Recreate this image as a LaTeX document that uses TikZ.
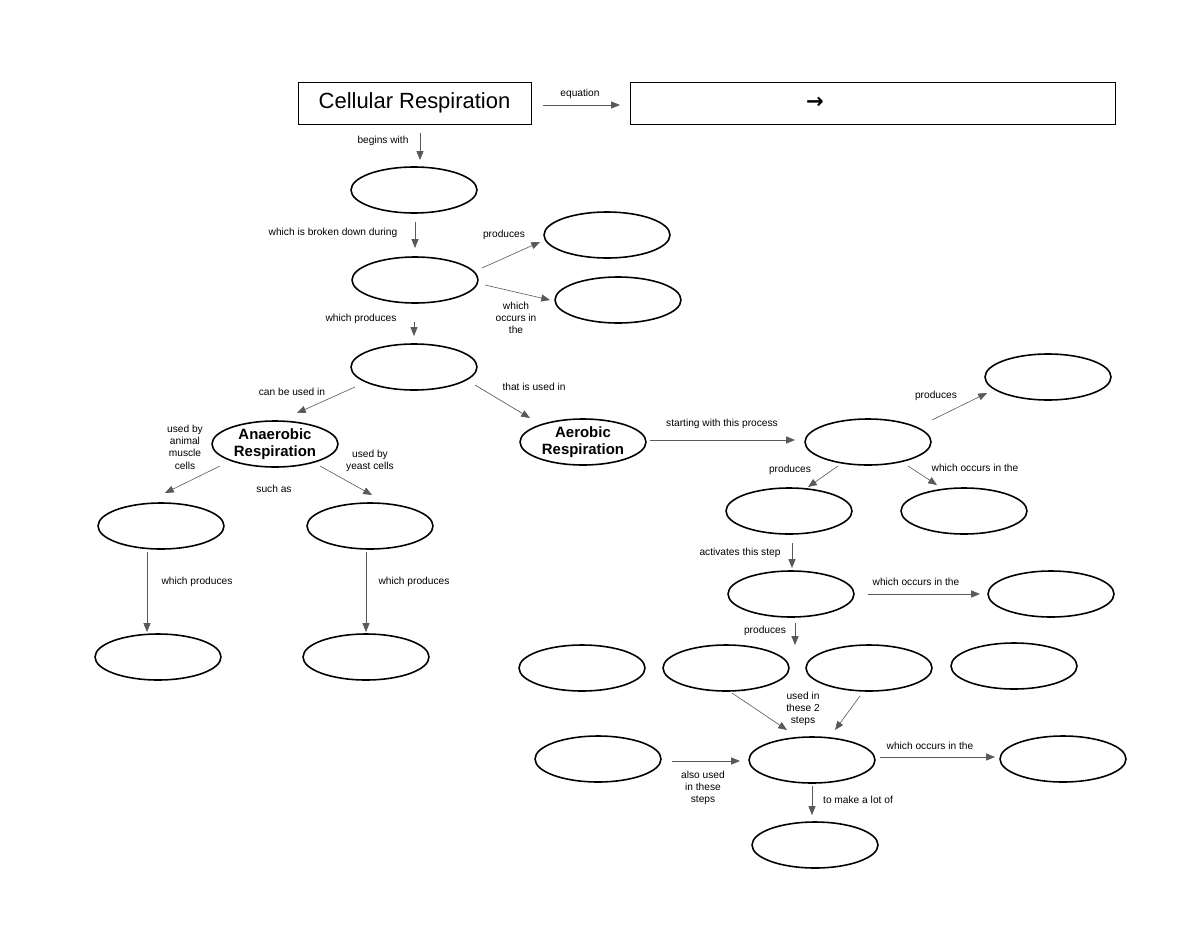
\documentclass[tikz,border=0pt]{standalone}
\usepackage{fontspec}
\setmainfont{Liberation Sans}
\newfontfamily\symfont{DejaVu Sans}
\usetikzlibrary{shapes.geometric,arrows.meta}
\begin{document}
\begin{tikzpicture}[x=0.02cm,y=-0.02cm,
  ov/.style={ellipse,draw,line width=0.9pt,minimum width=2.52cm,minimum height=0.92cm,inner sep=0pt,font=\bfseries\fontsize{8.5}{9.5}\selectfont,align=center},
  lab/.style={font=\fontsize{5.8}{7}\selectfont,align=center,inner sep=0pt},
  arr/.style={-{Triangle[length=5pt,width=4pt]},line width=0.35pt,gray!70!black}]
\useasboundingbox (0,0) rectangle (1200,927);
\node[draw,line width=0.5pt,minimum width=4.66cm,minimum height=0.84cm,font=\fontsize{12.5}{14}\selectfont] (title) at (414.5,103) {Cellular Respiration};
\node[draw,line width=0.5pt,minimum width=9.7cm,minimum height=0.84cm] (eq) at (872.5,103) {};
\node[font=\symfont\bfseries\fontsize{12}{14}\selectfont] (arrsym) at (815,103) {→};
\node[ov] (e1) at (414,190) {};
\node[ov] (e2) at (415,280) {};
\node[ov] (e3) at (607,235) {};
\node[ov] (e4) at (618,300) {};
\node[ov] (e5) at (414,367) {};
\node[ov] (an) at (275,444) {Anaerobic\\Respiration};
\node[ov] (ae) at (583,442) {Aerobic\\Respiration};
\node[ov] (e6) at (161,526) {};
\node[ov] (e7) at (370,526) {};
\node[ov] (e8) at (158,657) {};
\node[ov] (e9) at (366,657) {};
\node[ov] (e10) at (868,442) {};
\node[ov] (e11) at (1048,377) {};
\node[ov] (e12) at (789,511) {};
\node[ov] (e13) at (964,511) {};
\node[ov] (e14) at (791,594) {};
\node[ov] (e15) at (1051,594) {};
\node[ov] (e16) at (582,668) {};
\node[ov] (e17) at (726,668) {};
\node[ov] (e18) at (869,668) {};
\node[ov] (e19) at (1014,666) {};
\node[ov] (e20) at (598,759) {};
\node[ov] (e21) at (812,760) {};
\node[ov] (e22) at (1063,759) {};
\node[ov] (e23) at (815,845) {};
% connectors
\draw[arr] (543,105) -- (620,105);
\node[lab] (l1) at (580,94) {equation};
\draw[arr] (420,133) -- (420,160);
\node[lab] (l2) at (383,141) {begins with};
\draw[arr] (415,222) -- (415,248);
\node[lab] (l3) at (333,233) {which is broken down during};
\draw[arr] (482,268) -- (540,242);
\node[lab] (l4) at (504,235) {produces};
\draw[arr] (485,285) -- (550,300);
\node[lab] (l5) at (516,318) {which\\occurs in\\the};
\draw[arr] (414,322) -- (414,336);
\node[lab] (l6) at (361,319) {which produces};
\draw[arr] (355,387) -- (297,413);
\node[lab] (l7) at (292,392) {can be used in};
\draw[arr] (475,385) -- (530,418);
\node[lab] (l8) at (534,387) {that is used in};
\draw[arr] (220,466) -- (165,493);
\node[lab] (l9) at (185,447) {used by\\animal\\muscle\\cells};
\draw[arr] (320,466) -- (372,495);
\node[lab] (l10) at (370,461) {used by\\yeast cells};
\node[lab] (l11) at (274,489) {such as};
\draw[arr] (147,552) -- (147,632);
\node[lab] (l12) at (197,582) {which produces};
\draw[arr] (366,552) -- (366,632);
\node[lab] (l13) at (414,582) {which produces};
\draw[arr] (650,440) -- (795,440);
\node[lab] (l14) at (722,424) {starting with this process};
\draw[arr] (932,420) -- (987,393);
\node[lab] (l15) at (936,396) {produces};
\draw[arr] (838,466) -- (808,487);
\node[lab] (l16) at (790,470) {produces};
\draw[arr] (908,466) -- (937,485);
\node[lab] (l17) at (975,468) {which occurs in the};
\draw[arr] (792,543) -- (792,568);
\node[lab] (l18) at (740,553) {activates this step};
\draw[arr] (868,594) -- (980,594);
\node[lab] (l19) at (916,582) {which occurs in the};
\draw[arr] (795,623) -- (795,645);
\node[lab] (l20) at (765,631) {produces};
\draw[arr] (732,693) -- (787,730);
\draw[arr] (860,696) -- (835,730);
\node[lab] (l21) at (803,709) {used in\\these 2\\steps};
\draw[arr] (672,761) -- (740,761);
\node[lab] (l22) at (703,788) {also used\\in these\\steps};
\draw[arr] (880,757) -- (995,757);
\node[lab] (l23) at (930,746) {which occurs in the};
\draw[arr] (812,786) -- (812,815);
\node[lab] (l24) at (858,800) {to make a lot of};
\end{tikzpicture}
\end{document}
